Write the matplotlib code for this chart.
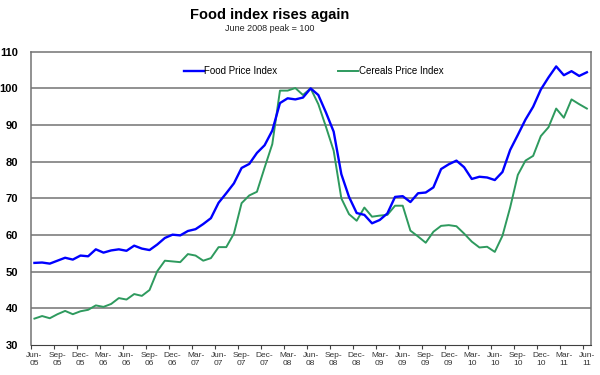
import numpy as np
import matplotlib.pyplot as plt

plt.rcParams['font.family'] = ['Liberation Sans', 'DejaVu Sans']

# monthly values, Jun-05 .. Jun-11 (June 2008 peak = 100)
food_index = [
    52.4, 52.5, 52.2, 53.0, 53.8, 53.3, 54.4, 54.2, 56.1, 55.2,
    55.8, 56.1, 55.7, 57.1, 56.3, 55.9, 57.4, 59.2, 60.1, 59.9,
    61.1, 61.6, 63.0, 64.6, 68.8, 71.4, 74.1, 78.3, 79.4, 82.4,
    84.5, 88.5, 96.0, 97.3, 97.0, 97.5, 100.0, 98.2, 93.4, 88.2,
    76.6, 70.4, 66.0, 65.5, 63.2, 64.1, 65.9, 70.4, 70.6, 69.0,
    71.4, 71.6, 73.0, 78.0, 79.3, 80.3, 78.5, 75.3, 75.9, 75.7,
    75.0, 77.2, 83.2, 87.3, 91.5, 95.0, 99.7, 103.0, 106.0, 103.6,
    104.7, 103.4, 104.4,
]
cereals_index = [
    37.2, 37.9, 37.3, 38.4, 39.3, 38.4, 39.2, 39.6, 40.8, 40.4,
    41.2, 42.8, 42.4, 43.9, 43.4, 45.0, 50.1, 53.0, 52.8, 52.6,
    54.8, 54.4, 53.0, 53.7, 56.7, 56.7, 60.4, 68.7, 70.8, 71.8,
    78.4, 84.8, 99.4, 99.4, 100.1, 98.2, 100.0, 95.7, 89.5, 83.0,
    70.0, 65.7, 63.9, 67.5, 65.0, 65.3, 65.5, 68.0, 68.0, 61.2,
    59.6, 57.9, 60.9, 62.5, 62.7, 62.4, 60.4, 58.2, 56.6, 56.8,
    55.4, 59.8, 67.5, 76.4, 80.3, 81.6, 87.0, 89.4, 94.5, 92.0,
    97.0, 95.7, 94.5,
]
tick_labels = [
    "Jun-\n05", "Sep-\n05", "Dec-\n05", "Mar-\n06", "Jun-\n06", "Sep-\n06",
    "Dec-\n06", "Mar-\n07", "Jun-\n07", "Sep-\n07", "Dec-\n07", "Mar-\n08",
    "Jun-\n08", "Sep-\n08", "Dec-\n08", "Mar-\n09", "Jun-\n09", "Sep-\n09",
    "Dec-\n09", "Mar-\n10", "Jun-\n10", "Sep-\n10", "Dec-\n10", "Mar-\n11",
    "Jun-\n11",
]

n = len(food_index)
x = np.arange(n) + 0.5  # points sit in the middle of each month slot

fig = plt.figure(figsize=(6, 3.75), dpi=100)
ax = fig.add_axes([0.051, 0.08, 0.9335, 0.782])

grid_col = "#737373"
ax.set_ylim(30, 110)
ax.set_xlim(0, n)
ax.set_yticks(range(30, 111, 10))
for v in range(40, 110, 10):
    ax.axhline(v, color=grid_col, lw=1.1, zorder=1)

ax.plot(x, food_index, color="#0000ff", lw=1.7, label="Food Price Index", zorder=3)
ax.plot(x, cereals_index, color="#2e9a5e", lw=1.4, label="Cereals Price Index", zorder=2)

for side in ["top", "right", "left"]:
    ax.spines[side].set_color(grid_col)
    ax.spines[side].set_linewidth(1.1)
ax.spines["bottom"].set_color("#404040")

major = np.arange(0, n, 3)
ax.set_xticks(major)
ax.set_xticklabels([])
ax.tick_params(axis="x", which="major", length=3, width=0.8, color="#404040", direction="out")
ax.set_xticks(major + 0.5, minor=True)
ax.set_xticklabels(tick_labels, minor=True, fontsize=6, color="#333333", linespacing=1.3)
ax.tick_params(axis="x", which="minor", length=0, pad=5)

ax.tick_params(axis="y", length=0, pad=9)
for lab in ax.get_yticklabels():
    lab.set_fontsize(8)
    lab.set_fontweight("bold")

ax.legend(loc="upper center", bbox_to_anchor=(0.505, 0.98), ncol=2, frameon=False,
          fontsize=7, handlelength=2.1, handletextpad=0.05, columnspacing=6.2)

fig.text(0.45, 0.96, "Food index rises again", ha="center", va="center",
         fontsize=10.5, fontweight="bold")
fig.text(0.45, 0.924, "June 2008 peak = 100", ha="center", va="center",
         fontsize=6.5, color="#222222")

fig.savefig("out.png", dpi=100)
